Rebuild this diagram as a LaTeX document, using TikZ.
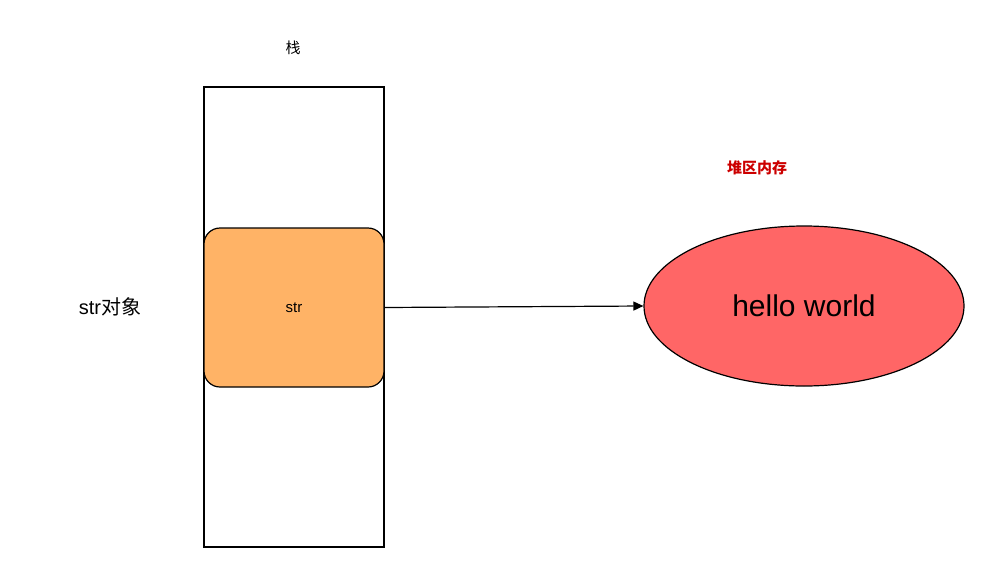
\documentclass[tikz,border=0pt]{standalone}
\usepackage{fontspec}
\setmainfont{Liberation Sans}
\newfontfamily\cjk{Noto Sans CJK SC}
\usetikzlibrary{shapes.geometric,arrows.meta}
\definecolor{orng}{HTML}{FFB366}
\definecolor{redf}{HTML}{FF6666}
\definecolor{redt}{HTML}{CC0000}
\begin{document}
\begin{tikzpicture}[x=1pt,y=-1pt,line width=1.2pt]
\useasboundingbox (0,0) rectangle (982,576);
\node[draw,minimum width=180pt,minimum height=460pt,inner sep=0] (stack) at (294,317) {};
\node[draw,fill=orng,rounded corners=16pt,minimum width=180pt,minimum height=159pt,inner sep=0,font=\fontsize{15}{18}\selectfont] (str) at (294,307.5) {str};
\node[draw,ellipse,fill=redf,minimum width=320pt,minimum height=160pt,inner sep=0,font=\fontsize{30}{36}\selectfont] (hw) at (804,306) {hello world};
\draw[-{Triangle[length=10pt,width=9pt]}] (str.east) -- (hw.west);
\node[font=\cjk\fontsize{15}{18}\selectfont] (lbl) at (293,48) {栈};
\node[font=\cjk\bfseries\fontsize{15}{18}\selectfont,text=redt] (heap) at (757,168) {堆区内存};
\node[font=\fontsize{20}{24}\selectfont] (obj) at (110,307) {str{\cjk 对象}};
\end{tikzpicture}
\end{document}
